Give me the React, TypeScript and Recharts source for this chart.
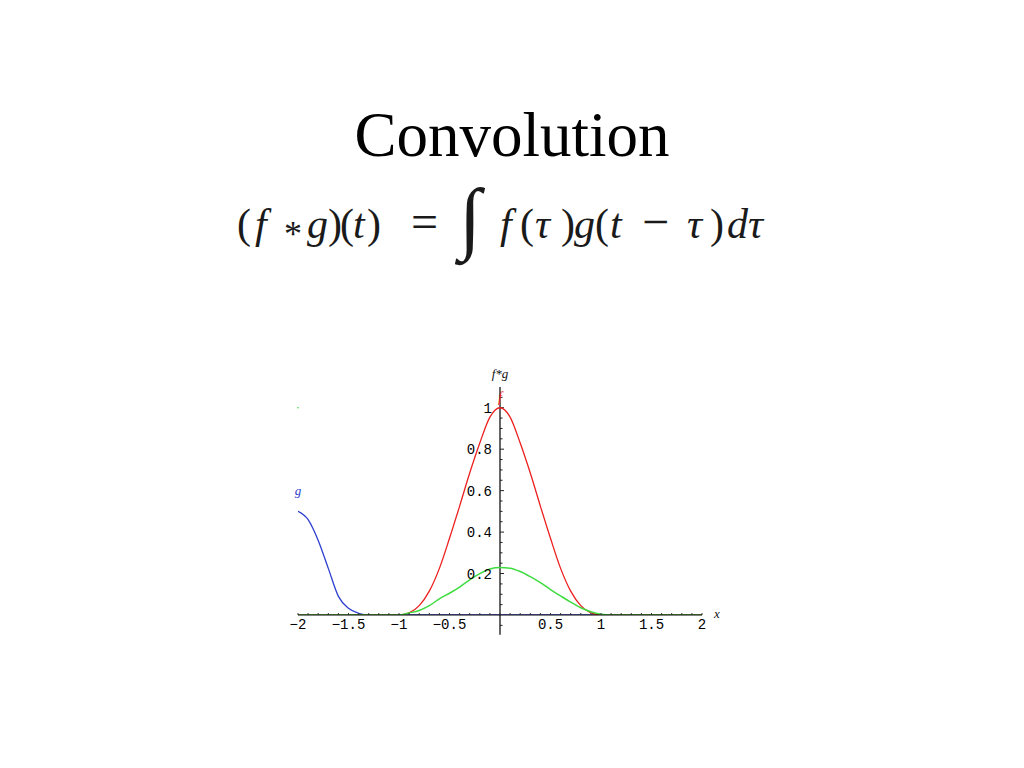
import { LineChart, Line, XAxis, YAxis, ReferenceLine, ReferenceDot } from "recharts";

// sample positions along x
const xs = [
  -2, -1.9, -1.8, -1.7, -1.6, -1.5, -1.4, -1.3, -1.2, -1.1,
  -1, -0.9, -0.8, -0.7, -0.6, -0.5, -0.4, -0.3, -0.2, -0.1,
  0, 0.1, 0.2, 0.3, 0.4, 0.5, 0.6, 0.7, 0.8, 0.9,
  1, 1.1, 1.2, 1.3, 1.4, 1.5, 1.6, 1.7, 1.8, 1.9, 2,
];

// f (red)
const fValues = [
  0, 0, 0, 0, 0, 0, 0, 0, 0, 0,
  0, 0.01, 0.045, 0.115, 0.225, 0.37, 0.525, 0.685, 0.83, 0.955,
  1, 0.955, 0.83, 0.685, 0.525, 0.37, 0.225, 0.115, 0.045, 0.01,
  0, 0, 0, 0, 0, 0, 0, 0, 0, 0, 0,
];

// g (blue)
const gValues = [
  0.5, 0.46, 0.36, 0.225, 0.09, 0.032, 0.008, 0, 0, 0,
  0, 0, 0, 0, 0, 0, 0, 0, 0, 0,
  0, 0, 0, 0, 0, 0, 0, 0, 0, 0,
  0, 0, 0, 0, 0, 0, 0, 0, 0, 0, 0,
];

// f*g (green)
const fgValues = [
  0, 0, 0, 0, 0, 0, 0, 0, 0, 0,
  0, 0.01, 0.022, 0.045, 0.078, 0.105, 0.135, 0.17, 0.2, 0.222,
  0.229, 0.226, 0.21, 0.185, 0.156, 0.123, 0.092, 0.062, 0.035, 0.016,
  0.004, 0, 0, 0, 0, 0, 0, 0, 0, 0, 0,
];

const xMinorTicks = [
  -2, -1.9, -1.8, -1.7, -1.6, -1.5, -1.4, -1.3, -1.2, -1.1,
  -1, -0.9, -0.8, -0.7, -0.6, -0.5, -0.4, -0.3, -0.2, -0.1,
  0, 0.1, 0.2, 0.3, 0.4, 0.5, 0.6, 0.7, 0.8, 0.9,
  1, 1.1, 1.2, 1.3, 1.4, 1.5, 1.6, 1.7, 1.8, 1.9, 2,
];
const xTickValues = [-2, -1.5, -1, -0.5, 0.5, 1, 1.5, 2];
const xTickLabels = ["\u22122", "\u22121.5", "\u22121", "\u22120.5", "0.5", "1", "1.5", "2"];

const yMinorTicks = [
  -0.05, 0.05, 0.1, 0.15, 0.25, 0.3, 0.35, 0.45, 0.5, 0.55,
  0.65, 0.7, 0.75, 0.85, 0.9, 0.95, 1.05,
];
const yTickValues = [0.2, 0.4, 0.6, 0.8, 1];
const yTickLabels = ["0.2", "0.4", "0.6", "0.8", "1"];

const data = xs.map((x, i) => ({
  x,
  f: fValues[i],
  g: gValues[i],
  fg: fgValues[i],
}));

// formula glyphs: text, left x, italic, font size, vertical shift
const formulaParts: [string, number, boolean, number, number][] = [
  ["(", 237, false, 42, 0],
  ["f", 255, true, 42, 0],
  ["*", 284, false, 36, 8],
  ["g", 307, true, 42, 0],
  [")", 328, false, 42, 0],
  ["(", 340, false, 42, 0],
  ["t", 353, true, 42, 0],
  [")", 367, false, 42, 0],
  ["=", 411, false, 48, 0],
  ["\u222B", 459, false, 80, 6],
  ["f", 500, true, 42, 0],
  ["(", 520, false, 42, 0],
  ["\u03C4", 535, true, 42, 0],
  [")", 561, false, 42, 0],
  ["g", 574, true, 42, 0],
  ["(", 595, false, 42, 0],
  ["t", 610, true, 42, 0],
  ["\u2212", 642, false, 48, 0],
  ["\u03C4", 687, true, 42, 0],
  [")", 710, false, 42, 0],
  ["d", 727, true, 42, 0],
  ["\u03C4", 748, true, 42, 0],
];

const RED = "#ec2020";
const BLUE = "#2d3fce";
const GREEN = "#3fdc3f";
const monoFont = '"Liberation Mono", "DejaVu Sans Mono", monospace';
const serifFont = '"Liberation Serif", "Times New Roman", serif';

function XTick(props: any) {
  const { x, y, payload } = props;
  const idx = xTickValues.indexOf(payload.value);
  if (idx < 0) return <g />;
  return (
    <text
      x={x}
      y={y}
      dy="0.71em"
      textAnchor="middle"
      fontFamily={monoFont}
      fontSize={14}
      fill="#000"
    >
      {xTickLabels[idx]}
    </text>
  );
}

export default function App() {
  return (
    <div
      style={{
        position: "absolute",
        left: 0,
        top: 0,
        width: 1024,
        height: 768,
        background: "#fff",
        overflow: "hidden",
      }}
    >
      <div
        style={{
          position: "absolute",
          left: 0,
          top: 104,
          width: 1024,
          textAlign: "center",
          fontFamily: serifFont,
          fontSize: 63,
          lineHeight: 1,
          color: "#000",
        }}
      >
        Convolution
      </div>

      <svg
        width={1024}
        height={110}
        style={{ position: "absolute", left: 0, top: 170 }}
      >
        {formulaParts.map(([t, x, it, fs, dy], i) => (
          <text
            key={i}
            x={x}
            y={68 + dy}
            fontFamily={serifFont}
            fontStyle={it ? "italic" : "normal"}
            fontSize={fs}
            fill="#1a1a1a"
          >
            {t}
          </text>
        ))}
      </svg>

      <div style={{ position: "absolute", left: 250, top: 340 }}>
        <LineChart
          width={500}
          height={320}
          data={data}
          margin={{ top: 47, right: 48, bottom: 15, left: 48 }}
        >
          <XAxis
            dataKey="x"
            type="number"
            domain={[-2, 2]}
            ticks={xMinorTicks}
            interval={0}
            height={30}
            tickSize={-2}
            tickMargin={6}
            tickLine={{ stroke: "#333" }}
            axisLine={{ stroke: "#000" }}
            tick={<XTick />}
            allowDataOverflow
          />
          <YAxis hide type="number" domain={[0, 1.1]} allowDataOverflow />

          <ReferenceLine
            segment={[{ x: 0, y: -0.095 }, { x: 0, y: 1.1 }]}
            stroke="#000"
            strokeWidth={1.2}
            ifOverflow="visible"
          />
          {yMinorTicks.map((v) => (
            <ReferenceLine
              key={"ym" + v}
              segment={[{ x: 0, y: v }, { x: 0.025, y: v }]}
              stroke="#222"
              ifOverflow="visible"
            />
          ))}
          {yTickValues.map((v, i) => (
            <ReferenceLine
              key={"yt" + v}
              segment={[{ x: 0, y: v }, { x: 0.04, y: v }]}
              stroke="#222"
              ifOverflow="visible"
              label={{
                value: yTickLabels[i],
                position: "left",
                offset: 8,
                fontFamily: monoFont,
                fontSize: 14,
                fill: "#000",
              }}
            />
          ))}

          <Line
            type="monotone"
            dataKey="g"
            stroke={BLUE}
            strokeWidth={1.3}
            dot={false}
            isAnimationActive={false}
          />
          <Line
            type="monotone"
            dataKey="f"
            stroke={RED}
            strokeWidth={1.3}
            dot={false}
            isAnimationActive={false}
          />
          <Line
            type="monotone"
            dataKey="fg"
            stroke={GREEN}
            strokeWidth={1.5}
            dot={false}
            isAnimationActive={false}
          />

          <ReferenceDot
            x={0}
            y={1.1}
            r={0}
            stroke="none"
            ifOverflow="visible"
            label={{
              value: "f*g",
              position: "top",
              offset: 9,
              fontFamily: serifFont,
              fontStyle: "italic",
              fontSize: 13,
              fill: "#111",
            }}
          />
          <ReferenceDot
            x={0}
            y={1.05}
            r={0}
            stroke="none"
            ifOverflow="visible"
            label={{
              value: "f",
              position: "center",
              fontFamily: serifFont,
              fontStyle: "italic",
              fontSize: 14,
              fill: RED,
            }}
          />
          <ReferenceDot
            x={-2}
            y={0.6}
            r={0}
            stroke="none"
            ifOverflow="visible"
            label={{
              value: "g",
              position: "center",
              fontFamily: serifFont,
              fontStyle: "italic",
              fontSize: 13,
              fill: BLUE,
            }}
          />
          <ReferenceDot
            x={-2}
            y={1}
            r={0.8}
            fill={GREEN}
            stroke="none"
            ifOverflow="visible"
          />
          <ReferenceDot
            x={2}
            y={0.01}
            r={0}
            stroke="none"
            ifOverflow="visible"
            label={{
              value: "x",
              position: "right",
              offset: 12,
              fontFamily: serifFont,
              fontStyle: "italic",
              fontSize: 13,
              fill: "#111",
            }}
          />
        </LineChart>
      </div>
    </div>
  );
}
